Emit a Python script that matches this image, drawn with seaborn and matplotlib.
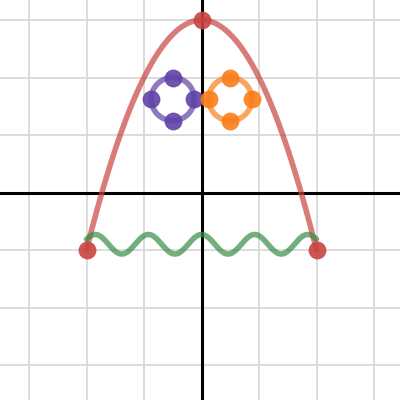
import numpy as np
import pandas as pd
import matplotlib
matplotlib.use("Agg")
import matplotlib.pyplot as plt
import seaborn as sns

# ---- data ----
# parabola y = top - x^2 on [-2, 2]
parab_top = 3.0
parab_x_range = [-2.0, 2.0]
# marked points on the parabola
red_pts_x = [0.0, -2.0, 2.0]
red_pts_y = [3.0, -1.0, -1.0]
# wavy line along the bottom
wave_x_range = [-2.0, 2.0]
wave_center = -0.9
wave_amp = 0.17
wave_freq = 6.8
# two small circles with four marked points each
circle_centers_x = [-0.5, 0.5]
circle_centers_y = [1.625, 1.625]
circle_radius = 0.375

RED = "#c74440"
GREEN = "#388c46"
PURPLE = "#6042a6"
ORANGE = "#fa7e19"

sns.set_theme(style="white")
fig = plt.figure(figsize=(4, 4), dpi=100)
ax = fig.add_axes([0, 0, 1, 1])

unit = 57.5
ax.set_xlim(-201.5 / unit, 198.5 / unit)
ax.set_ylim(-(400 - 192.5) / unit, 192.5 / unit)

# grid
for g in range(-3, 4):
    ax.axvline(g, color="#d9d9d9", lw=1.3, zorder=0)
    ax.axhline(g, color="#d9d9d9", lw=1.3, zorder=0)
ax.axvline(0, color="black", lw=2.2, zorder=1)
ax.axhline(0, color="black", lw=2.2, zorder=1)

LW = 4.0

# parabola
px = np.linspace(parab_x_range[0], parab_x_range[1], 400)
parab = pd.DataFrame({"x": px, "y": parab_top - px ** 2})
sns.lineplot(data=parab, x="x", y="y", color=RED, lw=LW, alpha=0.7,
             ax=ax, sort=False, zorder=3)

# wave
wx = np.linspace(wave_x_range[0], wave_x_range[1], 800)
wave = pd.DataFrame({"x": wx, "y": wave_center + wave_amp * np.cos(wave_freq * wx)})
sns.lineplot(data=wave, x="x", y="y", color=GREEN, lw=LW, alpha=0.7,
             ax=ax, sort=False, zorder=3)

# circles
t = np.linspace(0, 2 * np.pi, 300)
for cx, cy, col in zip(circle_centers_x, circle_centers_y, [PURPLE, ORANGE]):
    cdf = pd.DataFrame({"x": cx + circle_radius * np.cos(t),
                        "y": cy + circle_radius * np.sin(t)})
    sns.lineplot(data=cdf, x="x", y="y", color=col, lw=LW, alpha=0.7,
                 ax=ax, sort=False, estimator=None, zorder=3)
    pts = pd.DataFrame({"x": [cx, cx - circle_radius, cx + circle_radius, cx],
                        "y": [cy + circle_radius, cy, cy, cy - circle_radius]})
    sns.scatterplot(data=pts, x="x", y="y", color=col, s=165, alpha=0.9,
                    linewidth=0, ax=ax, zorder=4)

# red points
rp = pd.DataFrame({"x": red_pts_x, "y": red_pts_y})
sns.scatterplot(data=rp, x="x", y="y", color=RED, s=165, alpha=0.9,
                linewidth=0, ax=ax, zorder=4)

ax.set_xlabel("")
ax.set_ylabel("")
ax.set_xticks([])
ax.set_yticks([])
for s in ax.spines.values():
    s.set_visible(False)

fig.savefig("out.png", dpi=100)
